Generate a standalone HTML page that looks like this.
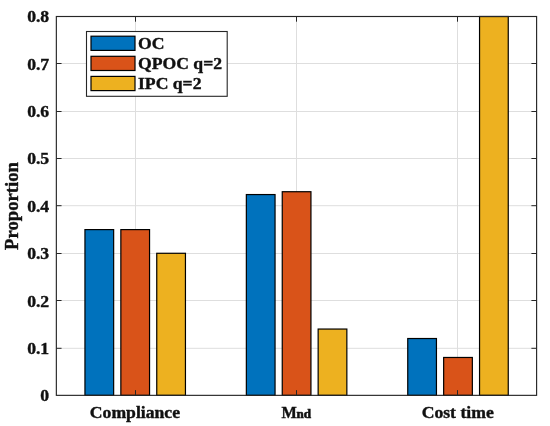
<!DOCTYPE html>
<html><head><meta charset="utf-8"><title>Bar chart</title>
<style>html,body{margin:0;padding:0;background:#fff}body{width:550px;height:426px;overflow:hidden}</style>
</head><body>
<svg width="550" height="426" viewBox="0 0 550 426" style="display:block">
<rect x="0" y="0" width="550" height="426" fill="#fff"/>
<line x1="56.35" x2="536.6" y1="348.30" y2="348.30" stroke="#dedede" stroke-width="1"/>
<line x1="56.35" x2="536.6" y1="300.50" y2="300.50" stroke="#dedede" stroke-width="1"/>
<line x1="56.35" x2="536.6" y1="253.50" y2="253.50" stroke="#dedede" stroke-width="1"/>
<line x1="56.35" x2="536.6" y1="205.70" y2="205.70" stroke="#dedede" stroke-width="1"/>
<line x1="56.35" x2="536.6" y1="158.50" y2="158.50" stroke="#dedede" stroke-width="1"/>
<line x1="56.35" x2="536.6" y1="111.50" y2="111.50" stroke="#dedede" stroke-width="1"/>
<line x1="56.35" x2="536.6" y1="63.50" y2="63.50" stroke="#dedede" stroke-width="1"/>
<line x1="135.5" x2="135.5" y1="16.5" y2="395.35" stroke="#dedede" stroke-width="1"/>
<line x1="296.5" x2="296.5" y1="16.5" y2="395.35" stroke="#dedede" stroke-width="1"/>
<line x1="457.5" x2="457.5" y1="16.5" y2="395.35" stroke="#dedede" stroke-width="1"/>
<rect x="84.95" y="229.60" width="28.7" height="165.75" fill="#0072BD" stroke="#000" stroke-width="1.2"/>
<rect x="120.85" y="229.60" width="28.7" height="165.75" fill="#D95319" stroke="#000" stroke-width="1.2"/>
<rect x="156.75" y="253.28" width="28.7" height="142.07" fill="#EDB120" stroke="#000" stroke-width="1.2"/>
<rect x="246.35" y="194.56" width="28.7" height="200.79" fill="#0072BD" stroke="#000" stroke-width="1.2"/>
<rect x="282.25" y="191.72" width="28.7" height="203.63" fill="#D95319" stroke="#000" stroke-width="1.2"/>
<rect x="318.15" y="329.05" width="28.7" height="66.30" fill="#EDB120" stroke="#000" stroke-width="1.2"/>
<rect x="407.75" y="338.52" width="28.7" height="56.83" fill="#0072BD" stroke="#000" stroke-width="1.2"/>
<rect x="443.65" y="357.47" width="28.7" height="37.88" fill="#D95319" stroke="#000" stroke-width="1.2"/>
<rect x="479.55" y="16.50" width="28.7" height="378.85" fill="#EDB120" stroke="#000" stroke-width="1.2"/>
<rect x="56.35" y="16.5" width="480.25" height="378.85" fill="none" stroke="#262626" stroke-width="1.15"/>
<line x1="56.35" x2="61.550000000000004" y1="348.30" y2="348.30" stroke="#262626" stroke-width="1"/>
<line x1="536.6" x2="531.4" y1="348.30" y2="348.30" stroke="#262626" stroke-width="1"/>
<line x1="56.35" x2="61.550000000000004" y1="300.50" y2="300.50" stroke="#262626" stroke-width="1"/>
<line x1="536.6" x2="531.4" y1="300.50" y2="300.50" stroke="#262626" stroke-width="1"/>
<line x1="56.35" x2="61.550000000000004" y1="253.50" y2="253.50" stroke="#262626" stroke-width="1"/>
<line x1="536.6" x2="531.4" y1="253.50" y2="253.50" stroke="#262626" stroke-width="1"/>
<line x1="56.35" x2="61.550000000000004" y1="205.70" y2="205.70" stroke="#262626" stroke-width="1"/>
<line x1="536.6" x2="531.4" y1="205.70" y2="205.70" stroke="#262626" stroke-width="1"/>
<line x1="56.35" x2="61.550000000000004" y1="158.50" y2="158.50" stroke="#262626" stroke-width="1"/>
<line x1="536.6" x2="531.4" y1="158.50" y2="158.50" stroke="#262626" stroke-width="1"/>
<line x1="56.35" x2="61.550000000000004" y1="111.50" y2="111.50" stroke="#262626" stroke-width="1"/>
<line x1="536.6" x2="531.4" y1="111.50" y2="111.50" stroke="#262626" stroke-width="1"/>
<line x1="56.35" x2="61.550000000000004" y1="63.50" y2="63.50" stroke="#262626" stroke-width="1"/>
<line x1="536.6" x2="531.4" y1="63.50" y2="63.50" stroke="#262626" stroke-width="1"/>
<line x1="135.5" x2="135.5" y1="16.5" y2="21.7" stroke="#262626" stroke-width="1"/>
<line x1="135.5" x2="135.5" y1="395.35" y2="390.15000000000003" stroke="#262626" stroke-width="1"/>
<line x1="296.5" x2="296.5" y1="16.5" y2="21.7" stroke="#262626" stroke-width="1"/>
<line x1="296.5" x2="296.5" y1="395.35" y2="390.15000000000003" stroke="#262626" stroke-width="1"/>
<line x1="457.5" x2="457.5" y1="16.5" y2="21.7" stroke="#262626" stroke-width="1"/>
<line x1="457.5" x2="457.5" y1="395.35" y2="390.15000000000003" stroke="#262626" stroke-width="1"/>
<g font-family="'Liberation Serif', 'Times New Roman', serif" font-weight="bold" font-size="16.9" fill="#111" stroke="#111" stroke-width="0.4">
<text transform="translate(49.20 401.25) scale(1.015 1)" text-anchor="end" font-size="17.4">0</text>
<text transform="translate(49.20 353.88) scale(1.015 1)" text-anchor="end" font-size="17.4">0.1</text>
<text transform="translate(49.20 306.50) scale(1.015 1)" text-anchor="end" font-size="17.4">0.2</text>
<text transform="translate(49.20 259.12) scale(1.015 1)" text-anchor="end" font-size="17.4">0.3</text>
<text transform="translate(49.20 211.75) scale(1.015 1)" text-anchor="end" font-size="17.4">0.4</text>
<text transform="translate(49.20 164.38) scale(1.015 1)" text-anchor="end" font-size="17.4">0.5</text>
<text transform="translate(49.20 117.00) scale(1.015 1)" text-anchor="end" font-size="17.4">0.6</text>
<text transform="translate(49.20 69.62) scale(1.015 1)" text-anchor="end" font-size="17.4">0.7</text>
<text transform="translate(49.20 22.25) scale(1.015 1)" text-anchor="end" font-size="17.4">0.8</text>
<text transform="translate(134.90 417.50) scale(1.045 1)" text-anchor="middle">Compliance</text>
<text transform="translate(296.80 417.50) scale(0.96 1)" text-anchor="end">M</text>
<g stroke-width="0.55"><text transform="translate(296.50 417.70) scale(1.1 1)" font-size="11.9">nd</text></g>
<text transform="translate(457.70 417.50) scale(1.045 1)" text-anchor="middle">Cost time</text>
<text transform="translate(17.60 206.00) rotate(-90) scale(1.045 1)" text-anchor="middle" font-size="17.9">Proportion</text>
<rect x="86.5" y="31.5" width="140.7" height="64.8" fill="#fff" stroke="#262626" stroke-width="1.1"/>
<rect x="91" y="36.2" width="44" height="14.2" fill="#0072BD" stroke="#000" stroke-width="1.2"/>
<text transform="translate(138.00 49.20) scale(1.045 1)">OC</text>
<rect x="91" y="56.3" width="44" height="14.2" fill="#D95319" stroke="#000" stroke-width="1.2"/>
<text transform="translate(138.00 69.30) scale(1.045 1)">QPOC q=2</text>
<rect x="91" y="76.4" width="44" height="14.2" fill="#EDB120" stroke="#000" stroke-width="1.2"/>
<text transform="translate(138.00 89.40) scale(1.045 1)">IPC q=2</text>
</g>
</svg>
</body></html>
